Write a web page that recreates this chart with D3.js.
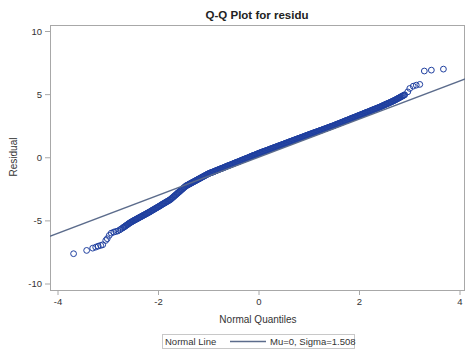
<!DOCTYPE html>
<html><head><meta charset="utf-8">
<script src="https://cdn.jsdelivr.net/npm/d3@7"></script>
<style>
html,body{margin:0;padding:0;background:#fff;}
svg{display:block;font-family:"Liberation Sans",Arial,sans-serif;}
</style></head>
<body>
<svg id="chart" width="474" height="355"></svg>
<script>
const title = "Q-Q Plot for residu";
const xLabel = "Normal Quantiles";
const yLabel = "Residual";
const xTicks = [-4, -2, 0, 2, 4];
const yTicks = [-10, -5, 0, 5, 10];
const mu = 0, sigma = 1.508;
const legendTitle = "Normal Line";
const legendLabel = "Mu=0, Sigma=1.508";

// Normal quantiles (x) of the plotted residuals
const quantiles = [
 -3.68,-3.42,-3.30,-3.24,-3.19,-3.14,-3.10,-3.04,-3.01,-2.97,-2.93,-2.88,-2.84,-2.80,-2.76,-2.73,
 -2.70,-2.67,-2.64,-2.61,-2.58,-2.55,-2.52,-2.49,-2.46,-2.43,-2.40,-2.37,-2.34,-2.31,-2.28,-2.25,
 -2.22,-2.19,-2.16,-2.13,-2.10,-2.07,-2.04,-2.01,-1.98,-1.95,-1.92,-1.89,-1.86,-1.83,-1.80,-1.77,
 -1.74,-1.71,-1.68,-1.65,-1.62,-1.59,-1.56,-1.53,-1.50,-1.47,-1.44,-1.41,-1.38,-1.35,-1.32,-1.29,
 -1.26,-1.23,-1.20,-1.17,-1.14,-1.11,-1.08,-1.05,-1.02,-0.99,-0.96,-0.93,-0.90,-0.87,-0.84,-0.81,
 -0.78,-0.75,-0.72,-0.69,-0.66,-0.63,-0.60,-0.57,-0.54,-0.51,-0.48,-0.45,-0.42,-0.39,-0.36,-0.33,
 -0.30,-0.27,-0.24,-0.21,-0.18,-0.15,-0.12,-0.09,-0.06,-0.03,0.00,0.03,0.06,0.09,0.12,0.15,
 0.18,0.21,0.24,0.27,0.30,0.33,0.36,0.39,0.42,0.45,0.48,0.51,0.54,0.57,0.60,0.63,
 0.66,0.69,0.72,0.75,0.78,0.81,0.84,0.87,0.90,0.93,0.96,0.99,1.02,1.05,1.08,1.11,
 1.14,1.17,1.20,1.23,1.26,1.29,1.32,1.35,1.38,1.41,1.44,1.47,1.50,1.53,1.56,1.59,
 1.62,1.65,1.68,1.71,1.74,1.77,1.80,1.83,1.86,1.89,1.92,1.95,1.98,2.01,2.04,2.07,
 2.10,2.13,2.16,2.19,2.22,2.25,2.28,2.31,2.34,2.37,2.40,2.43,2.46,2.49,2.52,2.55,
 2.58,2.61,2.64,2.67,2.70,2.73,2.76,2.79,2.82,2.85,2.88,2.91,
 2.97,3.01,3.08,3.14,3.21,3.30,3.44,3.68
];
// Residuals (y)
const residuals = [
 -7.64,-7.38,-7.20,-7.12,-7.04,-6.98,-6.93,-6.59,-6.45,-6.19,-6.01,-5.93,-5.88,-5.84,-5.75,-5.67,
 -5.59,-5.51,-5.42,-5.34,-5.25,-5.17,-5.10,-5.03,-4.97,-4.90,-4.84,-4.77,-4.71,-4.64,-4.58,-4.51,
 -4.45,-4.38,-4.32,-4.24,-4.17,-4.10,-4.03,-3.96,-3.89,-3.82,-3.74,-3.67,-3.60,-3.53,-3.46,-3.39,
 -3.30,-3.20,-3.09,-2.99,-2.88,-2.78,-2.67,-2.57,-2.46,-2.36,-2.26,-2.20,-2.13,-2.07,-2.00,-1.94,
 -1.87,-1.81,-1.74,-1.68,-1.61,-1.55,-1.48,-1.42,-1.35,-1.29,-1.24,-1.20,-1.15,-1.10,-1.05,-1.00,
 -0.95,-0.91,-0.86,-0.81,-0.76,-0.71,-0.66,-0.62,-0.57,-0.52,-0.47,-0.42,-0.38,-0.33,-0.28,-0.23,
 -0.18,-0.13,-0.09,-0.04,0.01,0.06,0.11,0.16,0.20,0.25,0.30,0.35,0.39,0.44,0.48,0.52,
 0.57,0.61,0.66,0.70,0.75,0.79,0.84,0.88,0.93,0.97,1.01,1.06,1.10,1.15,1.19,1.24,
 1.28,1.33,1.37,1.42,1.46,1.51,1.55,1.59,1.64,1.68,1.73,1.77,1.82,1.86,1.90,1.95,
 1.99,2.03,2.08,2.12,2.16,2.21,2.25,2.29,2.34,2.38,2.43,2.47,2.51,2.56,2.61,2.66,
 2.70,2.75,2.80,2.85,2.90,2.94,2.99,3.04,3.09,3.14,3.18,3.23,3.28,3.33,3.37,3.42,
 3.47,3.52,3.57,3.61,3.66,3.71,3.76,3.81,3.85,3.90,3.95,4.00,4.06,4.11,4.17,4.22,
 4.27,4.33,4.38,4.44,4.49,4.56,4.62,4.69,4.75,4.82,4.88,4.95,
 5.18,5.45,5.63,5.71,5.77,6.83,6.90,6.98
];
// Extra readings of the dense band (between the readings above)
const bandQuantiles = [
 -2.685,-2.655,-2.625,-2.595,-2.565,-2.535,-2.505,-2.475,-2.445,-2.415,-2.385,-2.355,-2.325,-2.295,-2.265,-2.235,
 -2.205,-2.175,-2.145,-2.115,-2.085,-2.055,-2.025,-1.995,-1.965,-1.935,-1.905,-1.875,-1.845,-1.815,-1.785,-1.755,
 -1.725,-1.695,-1.665,-1.635,-1.605,-1.575,-1.545,-1.515,-1.485,-1.455,-1.425,-1.395,-1.365,-1.335,-1.305,-1.275,
 -1.245,-1.215,-1.185,-1.155,-1.125,-1.095,-1.065,-1.035,-1.005,-0.975,-0.945,-0.915,-0.885,-0.855,-0.825,-0.795,
 -0.765,-0.735,-0.705,-0.675,-0.645,-0.615,-0.585,-0.555,-0.525,-0.495,-0.465,-0.435,-0.405,-0.375,-0.345,-0.315,
 -0.285,-0.255,-0.225,-0.195,-0.165,-0.135,-0.105,-0.075,-0.045,-0.015,0.015,0.045,0.075,0.105,0.135,0.165,
 0.195,0.225,0.255,0.285,0.315,0.345,0.375,0.405,0.435,0.465,0.495,0.525,0.555,0.585,0.615,0.645,
 0.675,0.705,0.735,0.765,0.795,0.825,0.855,0.885,0.915,0.945,0.975,1.005,1.035,1.065,1.095,1.125,
 1.155,1.185,1.215,1.245,1.275,1.305,1.335,1.365,1.395,1.425,1.455,1.485,1.515,1.545,1.575,1.605,
 1.635,1.665,1.695,1.725,1.755,1.785,1.815,1.845,1.875,1.905,1.935,1.965,1.995,2.025,2.055,2.085,
 2.115,2.145,2.175,2.205,2.235,2.265,2.295,2.325,2.355,2.385,2.415,2.445,2.475,2.505,2.535,2.565,
 2.595,2.625,2.655,2.685,2.715,2.745,2.775,2.805,2.835,2.865,2.895
];
const bandResiduals = [
 -5.55,-5.47,-5.38,-5.30,-5.21,-5.14,-5.07,-5.00,-4.94,-4.87,-4.81,-4.74,-4.68,-4.61,-4.55,-4.48,
 -4.42,-4.35,-4.28,-4.21,-4.14,-4.07,-4.00,-3.93,-3.86,-3.78,-3.71,-3.64,-3.57,-3.50,-3.43,-3.35,
 -3.25,-3.15,-3.04,-2.94,-2.83,-2.73,-2.62,-2.52,-2.41,-2.31,-2.23,-2.17,-2.10,-2.04,-1.97,-1.91,
 -1.84,-1.78,-1.71,-1.65,-1.58,-1.52,-1.45,-1.39,-1.32,-1.27,-1.22,-1.18,-1.13,-1.08,-1.03,-0.98,
 -0.93,-0.89,-0.84,-0.79,-0.74,-0.69,-0.64,-0.60,-0.55,-0.50,-0.45,-0.40,-0.36,-0.31,-0.26,-0.21,
 -0.16,-0.11,-0.07,-0.02,0.04,0.09,0.14,0.18,0.23,0.28,0.33,0.37,0.42,0.46,0.50,0.55,
 0.59,0.64,0.68,0.73,0.77,0.82,0.86,0.91,0.95,0.99,1.04,1.08,1.13,1.17,1.22,1.26,
 1.31,1.35,1.40,1.44,1.49,1.53,1.57,1.62,1.66,1.71,1.75,1.80,1.84,1.88,1.93,1.97,
 2.01,2.06,2.10,2.14,2.19,2.23,2.27,2.32,2.36,2.41,2.45,2.49,2.54,2.59,2.64,2.68,
 2.73,2.78,2.83,2.88,2.92,2.97,3.02,3.07,3.12,3.16,3.21,3.26,3.31,3.35,3.40,3.45,
 3.50,3.55,3.59,3.64,3.69,3.74,3.79,3.83,3.88,3.93,3.98,4.03,4.09,4.14,4.20,4.25,
 4.30,4.36,4.41,4.47,4.53,4.59,4.66,4.72,4.79,4.85,4.92
];

const svg = d3.select("#chart");
const frame = {left: 50, right: 465, top: 25, bottom: 291};
const x = d3.scaleLinear().domain([-4, 4]).range([57.5, 459.5]);
const y = d3.scaleLinear().domain([-10, 10]).range([283.5, 31]);

const txt = "#333";
const axisCol = "#a8a8a8";

// title
svg.append("text").attr("x", 257).attr("y", 19).attr("text-anchor", "middle")
  .attr("font-size", 11.5).attr("font-weight", "bold").attr("fill", "#222").text(title);

// clip
svg.append("clipPath").attr("id", "clip").append("rect")
  .attr("x", frame.left).attr("y", frame.top)
  .attr("width", frame.right - frame.left).attr("height", frame.bottom - frame.top);

// axes
const xAxis = svg.append("g").attr("transform", `translate(0,${frame.bottom})`)
  .call(d3.axisBottom(x).tickValues(xTicks).tickSize(4).tickPadding(3).tickFormat(d => String(d)));
const yAxis = svg.append("g").attr("transform", `translate(${frame.left},0)`)
  .call(d3.axisLeft(y).tickValues(yTicks).tickSize(5).tickPadding(3).tickFormat(d => String(d)));
[xAxis, yAxis].forEach(g => {
  g.select(".domain").remove();
  g.selectAll("line").attr("stroke", axisCol);
  g.selectAll("text").attr("fill", txt).attr("font-size", 9.5)
   .attr("font-family", '"Liberation Sans",Arial,sans-serif');
});

// frame
svg.append("rect").attr("x", frame.left + 0.5).attr("y", frame.top + 0.5)
  .attr("width", frame.right - frame.left - 1).attr("height", frame.bottom - frame.top - 1)
  .attr("fill", "none").attr("stroke", axisCol).attr("stroke-width", 1);

// axis labels
svg.append("text").attr("x", 258).attr("y", 323).attr("text-anchor", "middle")
  .attr("font-size", 10).attr("fill", txt).text(xLabel);
svg.append("text").attr("transform", "translate(17,157) rotate(-90)").attr("text-anchor", "middle")
  .attr("font-size", 10).attr("fill", txt).text(yLabel);

const plot = svg.append("g").attr("clip-path", "url(#clip)");
const lineCol = "#5c6c8c";
const markCol = "#1f3f9f";

// points
const pts = quantiles.map((q, i) => ({q, r: residuals[i]}))
  .concat(bandQuantiles.map((q, i) => ({q, r: bandResiduals[i]})));
plot.selectAll("circle.pt").data(pts).enter().append("circle")
  .attr("class", "pt")
  .attr("cx", d => x(d.q)).attr("cy", d => y(d.r)).attr("r", 2.9)
  .attr("fill", "none").attr("stroke", markCol).attr("stroke-width", 1);

// normal line
const xd = [-4.3, 4.3];
plot.append("line")
  .attr("x1", x(xd[0])).attr("y1", y(mu + sigma * xd[0]))
  .attr("x2", x(xd[1])).attr("y2", y(mu + sigma * xd[1]))
  .attr("stroke", lineCol).attr("stroke-width", 1.6);

// legend
const lg = svg.append("g");
lg.append("rect").attr("x", 162.5).attr("y", 334.5).attr("width", 192).attr("height", 14)
  .attr("fill", "#fff").attr("stroke", "#c8c8c8");
lg.append("text").attr("x", 165).attr("y", 345).attr("font-size", 9.5).attr("fill", txt).text(legendTitle);
lg.append("line").attr("x1", 230).attr("x2", 266).attr("y1", 341.5).attr("y2", 341.5)
  .attr("stroke", lineCol).attr("stroke-width", 1.6);
lg.append("text").attr("x", 270).attr("y", 345).attr("font-size", 9.5).attr("fill", txt).text(legendLabel);
</script>
</body></html>
